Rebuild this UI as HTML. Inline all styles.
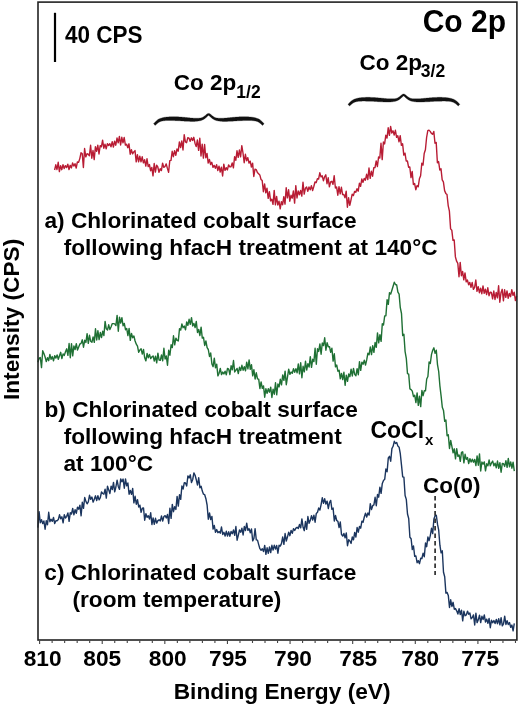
<!DOCTYPE html>
<html><head><meta charset="utf-8"><style>
html,body{margin:0;padding:0;background:#fff;}
svg{display:block;}
text{font-family:'Liberation Sans',Arial,Helvetica,sans-serif;font-weight:bold;fill:#000;}
</style></head><body>
<svg width="520" height="706" viewBox="0 0 520 706">
<rect x="0" y="0" width="520" height="706" fill="#fff"/>
<polyline points="54.6,170.0 55.8,164.8 57.0,169.5 58.2,162.3 59.4,171.6 60.6,165.6 61.8,169.7 63.0,164.7 64.2,168.6 65.4,165.6 66.6,167.6 67.8,164.2 69.0,169.5 70.2,165.3 71.4,167.9 72.6,163.0 73.8,166.1 75.0,163.7 76.2,168.0 77.4,161.9 78.6,162.3 79.8,158.6 81.0,152.8 82.2,153.5 83.4,167.5 84.6,148.5 85.8,156.9 87.0,153.7 88.2,154.2 89.4,155.7 90.6,145.3 91.8,158.2 93.0,150.5 94.2,159.6 95.4,146.8 96.6,151.4 97.8,145.2 99.0,154.0 100.2,145.6 101.4,146.8 102.6,140.2 103.8,148.2 105.0,144.1 106.2,148.8 107.4,143.7 108.6,145.5 109.8,143.7 111.0,146.8 112.2,141.6 113.4,147.1 114.6,141.1 115.8,145.2 117.0,138.0 118.2,142.8 119.4,136.4 120.6,145.0 121.8,137.3 123.0,142.9 124.2,137.5 125.4,145.1 126.6,144.2 127.8,147.7 129.0,143.8 130.2,154.2 131.4,149.7 132.6,153.8 133.8,151.9 135.0,150.6 136.2,161.9 137.4,154.6 138.6,161.8 139.8,156.2 141.0,161.8 142.2,156.8 143.4,162.9 144.6,159.7 145.8,166.1 147.0,158.8 148.2,166.6 149.4,164.5 150.6,170.7 151.8,167.4 153.0,175.9 154.2,163.5 155.4,172.1 156.6,165.2 157.8,167.0 159.0,172.3 160.2,168.7 161.4,170.6 162.6,163.1 163.8,167.4 165.0,166.5 166.2,163.9 167.4,168.4 168.6,172.3 169.8,160.6 171.0,160.4 172.2,151.3 173.4,156.7 174.6,150.6 175.8,155.3 177.0,149.0 178.2,151.2 179.4,141.9 180.6,147.5 181.8,140.9 183.0,150.0 184.2,134.7 185.4,141.9 186.6,142.7 187.8,137.6 189.0,138.1 190.2,141.4 191.4,137.8 192.6,140.4 193.8,137.3 195.0,143.2 196.2,146.5 197.4,140.0 198.6,150.4 199.8,138.2 201.0,156.0 202.2,144.1 203.4,158.1 204.6,144.5 205.8,157.7 207.0,153.4 208.2,163.1 209.4,159.4 210.6,164.5 211.8,162.3 213.0,167.4 214.2,165.4 215.4,168.3 216.6,164.7 217.8,170.6 219.0,166.1 220.2,172.0 221.4,167.2 222.6,176.0 223.8,164.1 225.0,170.4 226.2,167.7 227.4,169.9 228.6,164.9 229.8,166.9 231.0,166.8 232.2,162.9 233.4,167.9 234.6,156.8 235.8,160.4 237.0,150.8 238.2,157.4 239.4,150.0 240.6,156.8 241.8,145.6 243.0,153.0 244.2,162.7 245.4,154.3 246.6,160.7 247.8,157.6 249.0,163.1 250.2,161.2 251.4,167.0 252.6,163.1 253.8,176.5 255.0,169.1 256.2,169.6 257.4,172.5 258.6,173.7 259.8,174.9 261.0,179.4 262.2,180.6 263.4,191.7 264.6,183.9 265.8,192.8 267.0,188.3 268.2,198.4 269.4,191.6 270.6,200.9 271.8,199.2 273.0,204.4 274.2,190.4 275.4,204.8 276.6,196.4 277.8,205.0 279.0,201.1 280.2,208.9 281.4,201.6 282.6,204.8 283.8,196.6 285.0,204.1 286.2,187.8 287.4,197.8 288.6,189.8 289.8,201.2 291.0,195.3 292.2,198.2 293.4,190.9 294.6,203.1 295.8,185.6 297.0,198.0 298.2,190.9 299.4,194.7 300.6,190.4 301.8,196.1 303.0,182.2 304.2,194.1 305.4,188.3 306.6,187.0 307.8,191.4 309.0,187.0 310.2,189.8 311.4,185.6 312.6,190.5 313.8,186.5 315.0,182.0 316.2,182.6 317.4,178.6 318.6,179.0 319.8,172.8 321.0,176.9 322.2,175.8 323.4,180.7 324.6,176.8 325.8,174.8 327.0,183.7 328.2,177.8 329.4,186.9 330.6,181.8 331.8,181.3 333.0,184.4 334.2,175.7 335.4,188.0 336.6,186.9 337.8,195.2 339.0,186.7 340.2,193.9 341.4,187.3 342.6,194.6 343.8,194.5 345.0,197.8 346.2,191.2 347.4,207.2 348.6,197.8 349.8,205.4 351.0,199.9 352.2,194.1 353.4,195.6 354.6,191.4 355.8,192.3 357.0,188.7 358.2,191.2 359.4,183.3 360.6,186.4 361.8,179.0 363.0,182.4 364.2,178.5 365.4,180.2 366.6,174.3 367.8,179.5 369.0,168.0 370.2,178.3 371.4,171.3 372.6,176.2 373.8,167.7 375.0,167.6 376.2,161.0 377.4,166.5 378.6,156.9 379.8,158.1 381.0,143.2 382.2,159.6 383.4,142.0 384.6,143.9 385.8,135.3 387.0,138.1 388.2,127.8 389.4,135.3 390.6,126.5 391.8,133.0 393.0,130.8 394.2,135.1 395.4,130.3 396.6,137.3 397.8,135.7 399.0,141.9 400.2,135.7 401.4,145.4 402.6,143.7 403.8,155.1 405.0,153.2 406.2,161.0 407.4,161.0 408.6,167.2 409.8,167.0 411.0,177.6 412.2,171.5 413.4,184.5 414.6,183.5 415.8,189.7 417.0,185.6 418.2,186.8 419.4,178.8 420.6,175.8 421.8,163.2 423.0,165.1 424.2,153.5 425.4,149.8 426.6,137.5 427.8,130.7 429.0,130.1 430.2,131.4 431.4,133.4 432.6,134.3 433.8,131.4 435.0,143.3 436.2,142.4 437.4,162.7 438.6,161.6 439.8,170.0 441.0,168.8 442.2,179.9 443.4,181.9 444.6,190.6 445.8,193.4 447.0,194.5 448.2,205.6 449.4,211.2 450.6,228.9 451.8,230.2 453.0,240.3 454.2,240.0 455.4,256.9 456.6,261.2 457.8,263.3 459.0,276.7 460.2,262.4 461.4,275.7 462.6,271.4 463.8,279.8 465.0,272.9 466.2,281.8 467.4,280.0 468.6,284.7 469.8,282.4 471.0,287.4 472.2,282.5 473.4,289.4 474.6,287.3 475.8,280.0 477.0,291.4 478.2,286.6 479.4,292.7 480.6,288.1 481.8,293.7 483.0,285.9 484.2,293.4 485.4,289.2 486.6,294.6 487.8,287.8 489.0,295.7 490.2,292.1 491.4,292.5 492.6,298.8 493.8,291.0 495.0,299.5 496.2,292.5 497.4,297.9 498.6,285.7 499.8,302.2 501.0,292.7 502.2,289.3 503.4,300.8 504.6,289.8 505.8,297.3 507.0,290.9 508.2,298.4 509.4,293.4 510.6,296.7 511.8,289.6 513.0,295.4 514.2,292.2 515.4,300.6 516.6,296.0" fill="none" stroke="#b81c34" stroke-width="1.4" stroke-linejoin="round"/>
<polyline points="37.9,362.3 39.1,358.2 40.3,357.5 41.5,367.6 42.7,350.7 43.9,353.5 45.1,357.0 46.3,361.6 47.5,357.6 48.7,360.7 49.9,354.4 51.1,359.3 52.3,356.6 53.5,360.8 54.7,355.6 55.9,358.1 57.1,354.9 58.3,359.3 59.5,355.7 60.7,352.3 61.9,358.6 63.1,353.9 64.3,355.4 65.5,351.8 66.7,348.8 67.9,355.4 69.1,343.5 70.3,357.7 71.5,343.6 72.7,355.9 73.9,345.9 75.1,349.5 76.3,343.7 77.5,350.0 78.7,347.0 79.9,344.0 81.1,343.4 82.3,339.8 83.5,347.2 84.7,340.3 85.9,342.4 87.1,333.6 88.3,343.3 89.5,335.3 90.7,341.3 91.9,342.3 93.1,336.9 94.3,342.4 95.5,328.8 96.7,340.0 97.9,330.6 99.1,339.6 100.3,332.5 101.5,337.5 102.7,331.3 103.9,335.5 105.1,321.4 106.3,328.8 107.5,330.0 108.7,324.8 109.9,329.5 111.1,326.7 112.3,323.6 113.5,323.6 114.7,323.9 115.9,325.6 117.1,315.4 118.3,331.3 119.5,317.1 120.7,323.0 121.9,317.6 123.1,325.8 124.3,323.4 125.5,329.7 126.7,328.4 127.9,335.6 129.1,328.4 130.3,340.4 131.5,333.4 132.7,337.7 133.9,336.0 135.1,341.0 136.3,344.2 137.5,346.1 138.7,352.3 139.9,350.0 141.1,348.8 142.3,354.1 143.5,349.4 144.7,357.8 145.9,360.9 147.1,353.4 148.3,357.8 149.5,354.4 150.7,358.6 151.9,356.9 153.1,356.0 154.3,361.1 155.5,356.2 156.7,362.8 157.9,353.1 159.1,360.1 160.3,360.4 161.5,354.9 162.7,360.8 163.9,348.3 165.1,359.0 166.3,355.9 167.5,365.2 168.7,350.3 169.9,355.2 171.1,344.8 172.3,347.6 173.5,335.8 174.7,344.9 175.9,338.1 177.1,340.4 178.3,340.9 179.5,328.7 180.7,330.1 181.9,323.9 183.1,327.7 184.3,326.1 185.5,329.8 186.7,321.9 187.9,325.4 189.1,319.3 190.3,324.4 191.5,317.6 192.7,326.0 193.9,323.4 195.1,327.6 196.3,321.5 197.5,332.5 198.7,329.5 199.9,335.5 201.1,327.2 202.3,338.1 203.5,337.3 204.7,345.5 205.9,340.9 207.1,347.7 208.3,349.5 209.5,356.5 210.7,353.0 211.9,363.9 213.1,366.7 214.3,358.1 215.5,367.9 216.7,364.1 217.9,375.9 219.1,373.2 220.3,368.5 221.5,374.6 222.7,372.1 223.9,373.9 225.1,371.2 226.3,374.9 227.5,368.4 228.7,369.2 229.9,374.5 231.1,365.8 232.3,369.8 233.5,360.5 234.7,372.0 235.9,370.1 237.1,368.4 238.3,373.6 239.5,367.3 240.7,370.5 241.9,365.3 243.1,370.2 244.3,366.7 245.5,370.8 246.7,362.2 247.9,368.9 249.1,359.9 250.3,369.4 251.5,364.8 252.7,375.9 253.9,369.7 255.1,379.0 256.3,372.8 257.5,378.9 258.7,379.1 259.9,388.5 261.1,381.9 262.3,388.4 263.5,385.9 264.7,397.2 265.9,388.7 267.1,393.4 268.3,388.8 269.5,392.2 270.7,387.1 271.9,397.5 273.1,389.2 274.3,394.2 275.5,382.7 276.7,394.8 277.9,384.0 279.1,386.9 280.3,379.3 281.5,384.9 282.7,375.0 283.9,380.4 285.1,371.1 286.3,384.7 287.5,376.8 288.7,369.1 289.9,374.3 291.1,372.1 292.3,373.2 293.5,368.6 294.7,372.2 295.9,368.6 297.1,372.9 298.3,363.9 299.5,373.8 300.7,362.8 301.9,377.8 303.1,366.3 304.3,371.8 305.5,361.3 306.7,370.0 307.9,363.7 309.1,367.1 310.3,356.7 311.5,367.4 312.7,359.3 313.9,361.6 315.1,348.2 316.3,364.3 317.5,348.8 318.7,351.4 319.9,343.9 321.1,354.2 322.3,343.0 323.5,345.6 324.7,337.8 325.9,350.2 327.1,342.7 328.3,346.8 329.5,346.7 330.7,352.4 331.9,348.2 333.1,361.1 334.3,353.8 335.5,366.9 336.7,365.0 337.9,371.2 339.1,370.2 340.3,378.8 341.5,373.4 342.7,379.6 343.9,372.3 345.1,385.3 346.3,375.1 347.5,381.3 348.7,374.0 349.9,376.7 351.1,369.1 352.3,376.0 353.5,368.4 354.7,374.4 355.9,375.8 357.1,368.6 358.3,374.7 359.5,361.6 360.7,370.3 361.9,362.2 363.1,364.2 364.3,360.2 365.5,365.0 366.7,359.9 367.9,353.2 369.1,354.7 370.3,347.0 371.5,354.6 372.7,345.7 373.9,352.4 375.1,342.5 376.3,347.3 377.5,332.9 378.7,342.8 379.9,334.8 381.1,341.4 382.3,323.8 383.5,325.0 384.7,315.9 385.9,315.8 387.1,299.6 388.3,304.4 389.5,292.6 390.7,294.1 391.9,290.3 393.1,286.2 394.3,282.2 395.5,284.5 396.7,285.0 397.9,292.2 399.1,294.1 400.3,307.7 401.5,313.5 402.7,335.6 403.9,334.3 405.1,351.6 406.3,358.4 407.5,373.6 408.7,374.1 409.9,388.8 411.1,389.6 412.3,391.2 413.5,396.6 414.7,395.2 415.9,402.6 417.1,392.9 418.3,405.4 419.5,396.3 420.7,406.6 421.9,390.5 423.1,395.7 424.3,390.6 425.5,390.8 426.7,379.0 427.9,376.5 429.1,361.9 430.3,363.5 431.5,354.4 432.7,350.3 433.9,347.8 435.1,353.3 436.3,350.2 437.5,364.6 438.7,371.5 439.9,385.8 441.1,395.8 442.3,407.2 443.5,410.4 444.7,421.3 445.9,420.1 447.1,435.8 448.3,434.7 449.5,448.5 450.7,440.5 451.9,446.3 453.1,452.9 454.3,448.8 455.5,458.9 456.7,448.6 457.9,456.4 459.1,455.0 460.3,461.4 461.5,452.4 462.7,451.8 463.9,462.8 465.1,454.3 466.3,459.3 467.5,457.6 468.7,463.5 469.9,458.6 471.1,462.0 472.3,459.2 473.5,462.2 474.7,459.4 475.9,465.6 477.1,455.9 478.3,465.2 479.5,453.9 480.7,471.0 481.9,462.0 483.1,464.1 484.3,461.9 485.5,470.8 486.7,463.8 487.9,465.8 489.1,460.0 490.3,465.8 491.5,462.9 492.7,461.1 493.9,465.8 495.1,463.2 496.3,467.8 497.5,461.0 498.7,468.3 499.9,462.7 501.1,472.2 502.3,463.5 503.5,463.8 504.7,466.4 505.9,460.6 507.1,467.3 508.3,458.4 509.5,466.8 510.7,461.9 511.9,468.2 513.1,462.1 514.3,471.2" fill="none" stroke="#1f7034" stroke-width="1.4" stroke-linejoin="round"/>
<polyline points="37.9,527.6 39.1,511.7 40.3,522.8 41.5,519.7 42.7,523.6 43.9,521.0 45.1,529.2 46.3,520.7 47.5,524.7 48.7,512.3 49.9,521.7 51.1,519.3 52.3,521.3 53.5,517.5 54.7,523.5 55.9,520.8 57.1,520.8 58.3,519.6 59.5,514.8 60.7,518.7 61.9,516.8 63.1,522.8 64.3,514.7 65.5,518.0 66.7,516.3 67.9,512.9 69.1,521.4 70.3,512.7 71.5,513.9 72.7,508.5 73.9,514.8 75.1,509.7 76.3,513.3 77.5,507.1 78.7,509.2 79.9,505.2 81.1,515.8 82.3,502.3 83.5,508.4 84.7,497.5 85.9,501.4 87.1,503.8 88.3,501.8 89.5,495.3 90.7,499.3 91.9,497.0 93.1,502.1 94.3,499.3 95.5,495.8 96.7,500.6 97.9,495.7 99.1,499.9 100.3,497.7 101.5,492.0 102.7,493.5 103.9,494.2 105.1,489.1 106.3,498.1 107.5,486.1 108.7,489.9 109.9,493.5 111.1,486.1 112.3,489.6 113.5,482.4 114.7,491.9 115.9,487.0 117.1,480.2 118.3,486.4 119.5,489.4 120.7,478.9 121.9,481.7 123.1,479.1 124.3,488.2 125.5,478.9 126.7,485.9 127.9,483.0 129.1,494.3 130.3,490.5 131.5,494.4 132.7,488.5 133.9,502.9 135.1,496.3 136.3,504.2 137.5,499.6 138.7,507.0 139.9,505.2 141.1,512.4 142.3,508.2 143.5,507.9 144.7,520.2 145.9,513.7 147.1,517.4 148.3,515.7 149.5,519.0 150.7,512.8 151.9,524.5 153.1,518.0 154.3,524.4 155.5,518.3 156.7,523.1 157.9,520.6 159.1,519.8 160.3,520.9 161.5,516.0 162.7,521.1 163.9,516.5 165.1,515.7 166.3,517.9 167.5,514.5 168.7,523.5 169.9,508.2 171.1,518.4 172.3,504.4 173.5,511.7 174.7,506.7 175.9,509.4 177.1,496.4 178.3,506.1 179.5,494.8 180.7,499.4 181.9,486.0 183.1,489.1 184.3,482.7 185.5,483.0 186.7,486.0 187.9,475.9 189.1,477.9 190.3,474.8 191.5,482.6 192.7,479.5 193.9,472.9 195.1,475.2 196.3,479.8 197.5,485.0 198.7,477.8 199.9,487.7 201.1,486.2 202.3,491.1 203.5,494.2 204.7,494.7 205.9,498.7 207.1,505.0 208.3,519.2 209.5,513.0 210.7,519.5 211.9,516.4 213.1,529.1 214.3,525.5 215.5,532.3 216.7,529.6 217.9,532.7 219.1,531.5 220.3,533.2 221.5,527.0 222.7,534.5 223.9,532.3 225.1,536.0 226.3,531.3 227.5,536.1 228.7,531.8 229.9,536.2 231.1,531.5 232.3,533.7 233.5,529.9 234.7,535.3 235.9,526.5 237.1,540.2 238.3,535.3 239.5,530.0 240.7,532.3 241.9,528.2 243.1,535.0 244.3,526.5 245.5,530.5 246.7,523.1 247.9,530.3 249.1,528.8 250.3,532.8 251.5,529.0 252.7,540.9 253.9,538.5 255.1,528.7 256.3,539.9 257.5,540.1 258.7,544.6 259.9,548.7 261.1,550.3 262.3,548.8 263.5,551.5 264.7,545.4 265.9,554.4 267.1,547.8 268.3,553.4 269.5,546.9 270.7,552.6 271.9,545.3 273.1,550.1 274.3,545.1 275.5,549.1 276.7,545.5 277.9,553.2 279.1,545.2 280.3,546.1 281.5,543.4 282.7,537.0 283.9,544.3 285.1,533.5 286.3,541.1 287.5,536.8 288.7,532.1 289.9,535.7 291.1,530.4 292.3,533.3 293.5,528.6 294.7,530.5 295.9,528.1 297.1,527.3 298.3,528.5 299.5,524.4 300.7,527.9 301.9,518.9 303.1,527.3 304.3,530.7 305.5,521.4 306.7,529.3 307.9,516.5 309.1,523.3 310.3,520.3 311.5,515.6 312.7,520.1 313.9,515.2 315.1,522.2 316.3,513.4 317.5,512.3 318.7,508.0 319.9,510.1 321.1,504.6 322.3,497.7 323.5,503.4 324.7,498.8 325.9,504.1 327.1,501.1 328.3,508.5 329.5,502.6 330.7,500.4 331.9,509.4 333.1,508.1 334.3,521.0 335.5,515.4 336.7,520.5 337.9,521.4 339.1,527.6 340.3,522.0 341.5,534.4 342.7,536.1 343.9,533.5 345.1,537.8 346.3,533.0 347.5,545.7 348.7,539.8 349.9,541.0 351.1,543.4 352.3,536.9 353.5,539.9 354.7,532.4 355.9,537.0 357.1,527.5 358.3,532.2 359.5,526.5 360.7,528.2 361.9,521.1 363.1,522.2 364.3,517.0 365.5,513.1 366.7,517.0 367.9,513.0 369.1,515.1 370.3,503.6 371.5,509.6 372.7,505.7 373.9,504.9 375.1,497.3 376.3,505.7 377.5,494.5 378.7,497.2 379.9,487.1 381.1,493.3 382.3,483.4 383.5,480.4 384.7,479.3 385.9,468.9 387.1,471.8 388.3,458.0 389.5,456.3 390.7,461.2 391.9,448.6 393.1,446.3 394.3,441.3 395.5,443.5 396.7,442.5 397.9,446.1 399.1,447.2 400.3,453.7 401.5,465.1 402.7,476.9 403.9,477.1 405.1,495.5 406.3,499.4 407.5,514.0 408.7,518.5 409.9,537.2 411.1,538.7 412.3,549.6 413.5,546.0 414.7,556.3 415.9,556.0 417.1,562.7 418.3,560.7 419.5,563.7 420.7,558.3 421.9,558.5 423.1,553.2 424.3,556.8 425.5,543.0 426.7,546.7 427.9,537.0 429.1,540.7 430.3,535.6 431.5,528.3 432.7,533.6 433.9,519.0 435.1,515.7 436.3,515.2 437.5,524.2 438.7,530.2 439.9,545.2 441.1,552.9 442.3,550.8 443.5,572.3 444.7,576.7 445.9,593.1 447.1,592.4 448.3,595.4 449.5,607.5 450.7,599.8 451.9,606.5 453.1,602.3 454.3,609.2 455.5,608.6 456.7,610.8 457.9,614.0 459.1,608.7 460.3,614.6 461.5,610.2 462.7,620.9 463.9,611.1 465.1,615.7 466.3,615.0 467.5,611.1 468.7,614.3 469.9,613.1 471.1,618.8 472.3,617.5 473.5,614.9 474.7,625.0 475.9,613.2 477.1,622.6 478.3,619.8 479.5,615.1 480.7,622.6 481.9,616.3 483.1,619.6 484.3,614.9 485.5,622.1 486.7,619.1 487.9,623.3 489.1,618.5 490.3,627.7 491.5,620.2 492.7,622.8 493.9,620.5 495.1,623.6 496.3,619.5 497.5,623.7 498.7,618.7 499.9,624.8 501.1,617.7 502.3,625.8 503.5,623.8 504.7,616.1 505.9,624.5 507.1,620.7 508.3,624.5 509.5,622.5 510.7,627.3 511.9,625.1 513.1,630.9 514.3,623.3" fill="none" stroke="#1b355e" stroke-width="1.4" stroke-linejoin="round"/>
<rect x="38" y="2.1" width="478.9" height="637.9" fill="none" stroke="#222" stroke-width="1.6"/>
<path d="M515.47,640.5 V642.9 M502.95,640.5 V642.9 M490.43,640.5 V642.9 M477.91,640.5 V644.1 M465.38,640.5 V642.9 M452.86,640.5 V642.9 M440.34,640.5 V642.9 M427.81,640.5 V642.9 M415.29,640.5 V644.1 M402.77,640.5 V642.9 M390.24,640.5 V642.9 M377.72,640.5 V642.9 M365.20,640.5 V642.9 M352.68,640.5 V644.1 M340.15,640.5 V642.9 M327.63,640.5 V642.9 M315.11,640.5 V642.9 M302.58,640.5 V642.9 M290.06,640.5 V644.1 M277.54,640.5 V642.9 M265.01,640.5 V642.9 M252.49,640.5 V642.9 M239.97,640.5 V642.9 M227.44,640.5 V644.1 M214.92,640.5 V642.9 M202.40,640.5 V642.9 M189.88,640.5 V642.9 M177.35,640.5 V642.9 M164.83,640.5 V644.1 M152.31,640.5 V642.9 M139.78,640.5 V642.9 M127.26,640.5 V642.9 M114.74,640.5 V642.9 M102.22,640.5 V644.1 M89.69,640.5 V642.9 M77.17,640.5 V642.9 M64.65,640.5 V642.9 M52.12,640.5 V642.9 M39.60,640.5 V644.1" stroke="#444" stroke-width="1.1" fill="none"/>
<path d="M55,12.8 V62" stroke="#000" stroke-width="2.2"/>
<text transform="translate(64.9,43.4) scale(1,1.03)" font-size="22.5">40 CPS</text>
<text transform="translate(422.7,31.6) scale(1,1.05)" font-size="30">Co 2p</text>
<text x="173.8" y="90.2" font-size="22.5">Co 2p<tspan font-size="17.5" dy="7.6">1/2</tspan></text>
<text x="359.5" y="70.3" font-size="22.5">Co 2p<tspan font-size="17.5" dx="-1.2" dy="6.6">3/2</tspan></text>
<path d="M155.23,125.40 L155.46,125.18 L155.68,124.96 L155.90,124.74 L156.10,124.53 L156.31,124.32 L156.51,124.13 L156.71,123.94 L156.92,123.75 L157.14,123.57 L157.39,123.39 L157.67,123.18 L157.96,122.96 L158.25,122.75 L158.54,122.54 L158.83,122.34 L159.13,122.15 L159.43,121.98 L159.73,121.81 L160.05,121.67 L160.39,121.53 L160.75,121.41 L161.14,121.29 L161.55,121.18 L161.98,121.08 L162.42,120.99 L162.89,120.91 L163.37,120.84 L163.87,120.77 L164.39,120.71 L164.92,120.66 L165.47,120.62 L166.04,120.58 L166.64,120.55 L167.26,120.53 L167.90,120.52 L168.55,120.51 L169.21,120.51 L169.88,120.52 L170.56,120.52 L171.23,120.53 L171.90,120.55 L172.57,120.57 L173.26,120.59 L173.95,120.60 L174.65,120.62 L175.35,120.63 L176.05,120.65 L176.76,120.67 L177.46,120.70 L178.16,120.73 L178.84,120.76 L179.52,120.79 L180.19,120.84 L180.87,120.88 L181.55,120.93 L182.25,120.99 L182.95,121.04 L183.67,121.09 L184.41,121.13 L185.17,121.17 L185.94,121.20 L186.75,121.23 L187.59,121.27 L188.44,121.31 L189.30,121.35 L190.16,121.39 L191.01,121.42 L191.84,121.44 L192.64,121.45 L193.40,121.44 L194.12,121.43 L194.82,121.41 L195.50,121.36 L196.16,121.31 L196.79,121.24 L197.40,121.17 L197.98,121.10 L198.54,121.02 L199.06,120.94 L199.56,120.85 L200.03,120.76 L200.45,120.67 L200.85,120.57 L201.22,120.46 L201.56,120.35 L201.90,120.23 L202.21,120.11 L202.52,119.97 L202.82,119.83 L203.14,119.67 L203.47,119.49 L203.80,119.29 L204.12,119.09 L204.42,118.88 L204.72,118.66 L205.00,118.45 L205.27,118.24 L205.53,118.03 L205.77,117.84 L206.01,117.64 L206.25,117.44 L206.48,117.23 L206.70,117.02 L206.91,116.82 L207.10,116.62 L207.28,116.44 L207.44,116.27 L207.59,116.13 L207.72,116.00 L207.85,115.89 L207.99,115.78 L208.13,115.67 L208.26,115.58 L208.36,115.50 L208.44,115.44 L208.51,115.40 L208.55,115.38 L208.58,115.36 L208.59,115.36 L208.60,115.35 L208.61,115.36 L208.62,115.36 L208.65,115.38 L208.70,115.40 L208.76,115.44 L208.85,115.50 L208.96,115.58 L209.08,115.68 L209.22,115.78 L209.36,115.90 L209.50,116.01 L209.63,116.13 L209.78,116.28 L209.95,116.44 L210.12,116.63 L210.32,116.82 L210.52,117.02 L210.75,117.23 L210.98,117.44 L211.23,117.65 L211.47,117.84 L211.71,118.04 L211.97,118.24 L212.24,118.45 L212.53,118.67 L212.82,118.88 L213.13,119.09 L213.46,119.29 L213.79,119.49 L214.12,119.67 L214.44,119.83 L214.74,119.97 L215.05,120.11 L215.37,120.23 L215.71,120.35 L216.06,120.47 L216.43,120.57 L216.83,120.67 L217.26,120.76 L217.72,120.85 L218.23,120.94 L218.76,121.02 L219.32,121.10 L219.91,121.17 L220.52,121.24 L221.16,121.31 L221.82,121.36 L222.51,121.41 L223.21,121.43 L223.94,121.44 L224.71,121.45 L225.51,121.44 L226.35,121.42 L227.20,121.39 L228.07,121.35 L228.94,121.31 L229.80,121.27 L230.65,121.23 L231.46,121.20 L232.25,121.17 L233.01,121.13 L233.76,121.09 L234.48,121.04 L235.19,120.99 L235.89,120.93 L236.58,120.88 L237.27,120.84 L237.95,120.79 L238.63,120.76 L239.32,120.73 L240.03,120.70 L240.74,120.67 L241.45,120.65 L242.16,120.63 L242.87,120.62 L243.57,120.60 L244.27,120.59 L244.96,120.57 L245.64,120.55 L246.32,120.53 L247.00,120.52 L247.68,120.52 L248.35,120.51 L249.02,120.51 L249.68,120.52 L250.32,120.53 L250.95,120.55 L251.55,120.58 L252.13,120.62 L252.69,120.66 L253.23,120.71 L253.75,120.77 L254.26,120.84 L254.74,120.91 L255.21,120.99 L255.66,121.09 L256.09,121.19 L256.50,121.29 L256.90,121.41 L257.27,121.54 L257.61,121.67 L257.93,121.82 L258.24,121.98 L258.54,122.16 L258.84,122.35 L259.14,122.55 L259.43,122.75 L259.72,122.97 L260.01,123.18 L260.30,123.39 L260.55,123.58 L260.77,123.76 L260.98,123.94 L261.19,124.13 L261.39,124.33 L261.59,124.53 L261.80,124.74 L262.02,124.96 L262.24,125.18 L262.48,125.40 L264.12,123.80 L263.93,123.58 L263.74,123.36 L263.55,123.14 L263.36,122.91 L263.16,122.67 L262.95,122.43 L262.72,122.18 L262.47,121.92 L262.21,121.66 L261.93,121.41 L261.66,121.17 L261.38,120.92 L261.09,120.66 L260.78,120.40 L260.44,120.13 L260.08,119.86 L259.70,119.59 L259.29,119.34 L258.85,119.09 L258.39,118.86 L257.92,118.66 L257.45,118.47 L256.96,118.29 L256.45,118.13 L255.94,117.97 L255.40,117.83 L254.86,117.69 L254.30,117.57 L253.72,117.45 L253.13,117.34 L252.51,117.24 L251.86,117.15 L251.20,117.08 L250.53,117.02 L249.84,116.96 L249.15,116.91 L248.46,116.87 L247.76,116.83 L247.06,116.80 L246.37,116.77 L245.66,116.74 L244.95,116.72 L244.23,116.70 L243.50,116.71 L242.78,116.73 L242.05,116.75 L241.32,116.78 L240.59,116.81 L239.86,116.84 L239.14,116.87 L238.42,116.91 L237.71,116.96 L237.00,117.01 L236.30,117.07 L235.60,117.12 L234.89,117.18 L234.19,117.24 L233.47,117.30 L232.74,117.36 L231.99,117.43 L231.21,117.51 L230.38,117.59 L229.54,117.68 L228.68,117.76 L227.83,117.85 L226.98,117.93 L226.15,118.00 L225.36,118.07 L224.60,118.12 L223.89,118.16 L223.21,118.18 L222.55,118.19 L221.91,118.21 L221.28,118.23 L220.68,118.23 L220.10,118.23 L219.55,118.22 L219.03,118.20 L218.53,118.18 L218.07,118.15 L217.66,118.12 L217.29,118.08 L216.96,118.04 L216.67,117.99 L216.40,117.93 L216.15,117.87 L215.90,117.80 L215.64,117.72 L215.38,117.63 L215.11,117.53 L214.85,117.42 L214.59,117.30 L214.33,117.15 L214.06,117.00 L213.80,116.83 L213.54,116.66 L213.28,116.48 L213.02,116.30 L212.77,116.12 L212.54,115.95 L212.33,115.80 L212.13,115.64 L211.94,115.48 L211.74,115.31 L211.55,115.14 L211.36,114.96 L211.17,114.79 L210.97,114.62 L210.77,114.45 L210.57,114.30 L210.40,114.18 L210.24,114.07 L210.08,113.96 L209.91,113.86 L209.73,113.76 L209.54,113.66 L209.33,113.57 L209.10,113.51 L208.86,113.46 L208.60,113.45 L208.34,113.46 L208.10,113.51 L207.87,113.57 L207.66,113.66 L207.47,113.76 L207.29,113.86 L207.13,113.97 L206.97,114.08 L206.81,114.18 L206.64,114.31 L206.44,114.45 L206.24,114.62 L206.04,114.79 L205.85,114.97 L205.66,115.14 L205.47,115.31 L205.28,115.48 L205.09,115.65 L204.90,115.80 L204.69,115.96 L204.46,116.12 L204.21,116.30 L203.95,116.48 L203.70,116.66 L203.44,116.84 L203.18,117.00 L202.92,117.16 L202.66,117.30 L202.40,117.42 L202.14,117.53 L201.87,117.63 L201.61,117.72 L201.36,117.80 L201.12,117.87 L200.87,117.93 L200.60,117.99 L200.31,118.04 L199.99,118.08 L199.62,118.12 L199.21,118.15 L198.75,118.18 L198.27,118.20 L197.75,118.22 L197.20,118.23 L196.63,118.23 L196.03,118.23 L195.42,118.21 L194.78,118.19 L194.12,118.18 L193.45,118.16 L192.75,118.12 L192.00,118.07 L191.21,118.00 L190.39,117.93 L189.55,117.85 L188.70,117.76 L187.86,117.68 L187.02,117.59 L186.20,117.51 L185.42,117.43 L184.68,117.36 L183.96,117.30 L183.25,117.24 L182.55,117.18 L181.85,117.12 L181.16,117.07 L180.46,117.01 L179.76,116.96 L179.05,116.91 L178.34,116.87 L177.62,116.84 L176.90,116.81 L176.18,116.78 L175.46,116.75 L174.74,116.73 L174.02,116.71 L173.30,116.70 L172.58,116.72 L171.87,116.74 L171.18,116.77 L170.49,116.80 L169.80,116.83 L169.11,116.87 L168.42,116.91 L167.73,116.96 L167.05,117.02 L166.39,117.08 L165.73,117.15 L165.09,117.24 L164.48,117.34 L163.89,117.45 L163.32,117.57 L162.76,117.70 L162.22,117.83 L161.69,117.97 L161.18,118.13 L160.68,118.29 L160.19,118.47 L159.72,118.66 L159.25,118.87 L158.80,119.09 L158.36,119.34 L157.96,119.60 L157.58,119.86 L157.22,120.13 L156.89,120.40 L156.58,120.67 L156.29,120.92 L156.02,121.17 L155.75,121.41 L155.47,121.67 L155.21,121.93 L154.96,122.18 L154.74,122.43 L154.53,122.68 L154.33,122.91 L154.14,123.14 L153.95,123.36 L153.77,123.58 L153.57,123.80 Z" fill="#111" stroke="#111" stroke-width="0.3" stroke-linejoin="round"/>
<path d="M349.62,106.00 L349.85,105.78 L350.08,105.56 L350.30,105.34 L350.51,105.13 L350.71,104.93 L350.92,104.73 L351.12,104.54 L351.33,104.36 L351.56,104.18 L351.81,103.99 L352.09,103.78 L352.38,103.57 L352.67,103.36 L352.97,103.15 L353.26,102.95 L353.56,102.76 L353.87,102.58 L354.18,102.42 L354.50,102.27 L354.84,102.14 L355.21,102.01 L355.61,101.89 L356.02,101.79 L356.45,101.69 L356.90,101.59 L357.37,101.51 L357.86,101.44 L358.37,101.37 L358.89,101.31 L359.43,101.26 L359.99,101.22 L360.57,101.18 L361.17,101.15 L361.80,101.13 L362.44,101.12 L363.10,101.11 L363.77,101.11 L364.45,101.12 L365.13,101.12 L365.81,101.13 L366.49,101.15 L367.17,101.17 L367.86,101.19 L368.56,101.20 L369.27,101.22 L369.98,101.23 L370.69,101.25 L371.40,101.27 L372.12,101.30 L372.82,101.33 L373.51,101.36 L374.20,101.39 L374.88,101.44 L375.57,101.48 L376.26,101.53 L376.96,101.59 L377.67,101.64 L378.40,101.69 L379.15,101.73 L379.91,101.77 L380.69,101.80 L381.51,101.83 L382.36,101.87 L383.22,101.91 L384.09,101.95 L384.96,101.99 L385.82,102.02 L386.66,102.04 L387.46,102.05 L388.23,102.04 L388.96,102.03 L389.67,102.01 L390.35,101.96 L391.02,101.91 L391.66,101.84 L392.27,101.77 L392.86,101.70 L393.42,101.62 L393.96,101.54 L394.46,101.45 L394.93,101.36 L395.36,101.27 L395.76,101.17 L396.13,101.07 L396.48,100.95 L396.81,100.84 L397.13,100.71 L397.44,100.57 L397.75,100.43 L398.06,100.27 L398.40,100.09 L398.73,99.90 L399.06,99.69 L399.37,99.48 L399.66,99.27 L399.95,99.05 L400.22,98.84 L400.48,98.64 L400.72,98.44 L400.96,98.25 L401.21,98.04 L401.45,97.83 L401.67,97.62 L401.88,97.42 L402.07,97.23 L402.25,97.04 L402.42,96.88 L402.57,96.73 L402.70,96.61 L402.83,96.50 L402.98,96.39 L403.12,96.27 L403.24,96.18 L403.35,96.10 L403.43,96.04 L403.50,96.00 L403.55,95.98 L403.57,95.96 L403.59,95.96 L403.60,95.95 L403.61,95.96 L403.63,95.96 L403.66,95.98 L403.71,96.01 L403.78,96.05 L403.87,96.11 L403.97,96.18 L404.10,96.28 L404.24,96.39 L404.39,96.50 L404.52,96.61 L404.66,96.74 L404.81,96.88 L404.98,97.05 L405.16,97.23 L405.35,97.42 L405.56,97.63 L405.79,97.84 L406.03,98.05 L406.28,98.25 L406.52,98.44 L406.77,98.64 L407.03,98.85 L407.30,99.06 L407.59,99.27 L407.89,99.48 L408.20,99.69 L408.53,99.90 L408.87,100.09 L409.21,100.27 L409.53,100.43 L409.83,100.57 L410.15,100.71 L410.47,100.84 L410.81,100.96 L411.16,101.07 L411.54,101.17 L411.94,101.27 L412.37,101.36 L412.85,101.45 L413.35,101.54 L413.89,101.62 L414.46,101.70 L415.05,101.77 L415.67,101.84 L416.32,101.91 L416.99,101.96 L417.69,102.01 L418.40,102.03 L419.14,102.04 L419.91,102.05 L420.73,102.04 L421.57,102.02 L422.44,101.99 L423.32,101.95 L424.20,101.91 L425.07,101.87 L425.93,101.83 L426.75,101.80 L427.55,101.77 L428.32,101.73 L429.07,101.69 L429.81,101.64 L430.53,101.59 L431.24,101.53 L431.94,101.48 L432.63,101.44 L433.32,101.39 L434.01,101.36 L434.71,101.33 L435.43,101.30 L436.15,101.27 L436.87,101.25 L437.59,101.23 L438.30,101.22 L439.02,101.20 L439.73,101.19 L440.43,101.17 L441.12,101.15 L441.80,101.13 L442.49,101.12 L443.18,101.12 L443.86,101.11 L444.54,101.11 L445.21,101.12 L445.86,101.13 L446.50,101.15 L447.11,101.18 L447.69,101.22 L448.26,101.26 L448.80,101.31 L449.33,101.37 L449.85,101.44 L450.34,101.51 L450.82,101.60 L451.27,101.69 L451.71,101.79 L452.13,101.90 L452.53,102.01 L452.90,102.14 L453.25,102.27 L453.57,102.42 L453.89,102.58 L454.20,102.76 L454.50,102.95 L454.80,103.15 L455.10,103.36 L455.39,103.57 L455.69,103.79 L455.97,104.00 L456.23,104.18 L456.45,104.36 L456.67,104.55 L456.87,104.74 L457.08,104.93 L457.29,105.14 L457.50,105.35 L457.72,105.56 L457.95,105.79 L458.18,106.01 L459.82,104.39 L459.62,104.17 L459.43,103.96 L459.24,103.73 L459.05,103.50 L458.84,103.27 L458.63,103.02 L458.39,102.77 L458.14,102.52 L457.87,102.26 L457.59,102.00 L457.32,101.76 L457.04,101.52 L456.74,101.26 L456.43,100.99 L456.09,100.72 L455.73,100.46 L455.34,100.19 L454.92,99.93 L454.48,99.69 L454.02,99.46 L453.54,99.26 L453.06,99.07 L452.57,98.89 L452.06,98.73 L451.53,98.57 L450.99,98.43 L450.44,98.29 L449.87,98.17 L449.29,98.05 L448.69,97.94 L448.06,97.84 L447.41,97.75 L446.74,97.68 L446.06,97.62 L445.37,97.56 L444.67,97.51 L443.96,97.47 L443.26,97.43 L442.55,97.40 L441.85,97.37 L441.14,97.34 L440.42,97.32 L439.69,97.30 L438.95,97.31 L438.21,97.33 L437.48,97.35 L436.74,97.38 L436.00,97.41 L435.27,97.44 L434.53,97.47 L433.80,97.51 L433.08,97.56 L432.37,97.61 L431.66,97.67 L430.95,97.72 L430.23,97.78 L429.52,97.84 L428.79,97.90 L428.06,97.96 L427.30,98.03 L426.50,98.11 L425.66,98.19 L424.81,98.28 L423.94,98.36 L423.08,98.45 L422.22,98.53 L421.38,98.60 L420.57,98.67 L419.81,98.72 L419.09,98.76 L418.40,98.78 L417.73,98.79 L417.07,98.81 L416.44,98.83 L415.83,98.83 L415.25,98.83 L414.69,98.82 L414.16,98.80 L413.66,98.78 L413.19,98.75 L412.77,98.72 L412.40,98.68 L412.06,98.64 L411.76,98.59 L411.49,98.53 L411.23,98.47 L410.98,98.40 L410.72,98.32 L410.46,98.23 L410.18,98.13 L409.91,98.02 L409.65,97.89 L409.39,97.75 L409.12,97.60 L408.85,97.43 L408.59,97.25 L408.32,97.08 L408.07,96.90 L407.81,96.72 L407.57,96.55 L407.36,96.39 L407.16,96.24 L406.97,96.08 L406.77,95.91 L406.58,95.73 L406.38,95.56 L406.19,95.38 L405.99,95.21 L405.79,95.05 L405.58,94.90 L405.41,94.78 L405.25,94.67 L405.08,94.56 L404.92,94.45 L404.74,94.35 L404.54,94.26 L404.33,94.17 L404.10,94.10 L403.86,94.06 L403.60,94.05 L403.34,94.06 L403.09,94.10 L402.86,94.17 L402.65,94.26 L402.46,94.36 L402.29,94.46 L402.12,94.56 L401.96,94.67 L401.80,94.78 L401.63,94.90 L401.43,95.05 L401.22,95.22 L401.03,95.39 L400.83,95.56 L400.64,95.74 L400.45,95.91 L400.26,96.08 L400.07,96.24 L399.87,96.40 L399.66,96.55 L399.42,96.72 L399.17,96.90 L398.91,97.08 L398.65,97.26 L398.39,97.43 L398.13,97.60 L397.86,97.75 L397.60,97.90 L397.34,98.02 L397.08,98.13 L396.81,98.23 L396.54,98.32 L396.29,98.40 L396.04,98.47 L395.79,98.53 L395.52,98.59 L395.22,98.64 L394.90,98.68 L394.53,98.72 L394.11,98.75 L393.65,98.78 L393.15,98.80 L392.63,98.82 L392.08,98.83 L391.50,98.83 L390.90,98.83 L390.27,98.81 L389.63,98.79 L388.96,98.78 L388.28,98.76 L387.57,98.72 L386.81,98.67 L386.01,98.60 L385.18,98.53 L384.34,98.45 L383.48,98.36 L382.62,98.28 L381.78,98.19 L380.95,98.11 L380.16,98.03 L379.41,97.96 L378.68,97.90 L377.97,97.84 L377.26,97.78 L376.55,97.72 L375.85,97.67 L375.15,97.61 L374.44,97.56 L373.73,97.51 L373.00,97.47 L372.28,97.44 L371.55,97.41 L370.82,97.38 L370.09,97.35 L369.36,97.33 L368.63,97.31 L367.91,97.30 L367.18,97.32 L366.47,97.34 L365.76,97.37 L365.07,97.40 L364.37,97.43 L363.67,97.47 L362.97,97.51 L362.28,97.56 L361.60,97.62 L360.92,97.68 L360.26,97.75 L359.61,97.84 L358.99,97.94 L358.40,98.05 L357.82,98.17 L357.26,98.29 L356.71,98.43 L356.18,98.57 L355.66,98.73 L355.15,98.89 L354.66,99.07 L354.19,99.26 L353.72,99.46 L353.26,99.69 L352.82,99.94 L352.41,100.19 L352.02,100.46 L351.67,100.73 L351.33,101.00 L351.02,101.26 L350.72,101.52 L350.45,101.77 L350.18,102.01 L349.90,102.26 L349.63,102.52 L349.39,102.78 L349.16,103.03 L348.94,103.27 L348.74,103.51 L348.55,103.74 L348.36,103.96 L348.17,104.18 L347.98,104.40 Z" fill="#111" stroke="#111" stroke-width="0.3" stroke-linejoin="round"/>
<text x="44.5" y="228.4" font-size="22.65">a) Chlorinated cobalt surface</text>
<text x="63.7" y="255.3" font-size="22.65">following hfacH treatment at 140°C</text>
<text x="44.5" y="416.6" font-size="22.65">b) Chlorinated cobalt surface</text>
<text x="63.7" y="443.9" font-size="22.65">following hfacH treatment</text>
<text x="63.5" y="471.3" font-size="22.65">at 100°C</text>
<text x="370.4" y="437.8" font-size="23">CoCl<tspan font-size="15" dx="1" dy="7.3">x</tspan></text>
<text x="423" y="492.9" font-size="22.5">Co(0)</text>
<path d="M435.1,496 V575" stroke="#222" stroke-width="1.6" stroke-dasharray="4.5,3"/>
<text x="44.3" y="580.3" font-size="22.65">c) Chlorinated cobalt surface</text>
<text x="72.5" y="607.2" font-size="22.65">(room temperature)</text>
<text x="42.6" y="665.6" font-size="22.7" text-anchor="middle">810</text><text x="102.2" y="665.6" font-size="22.7" text-anchor="middle">805</text><text x="167.8" y="665.6" font-size="22.7" text-anchor="middle">800</text><text x="228.0" y="665.6" font-size="22.7" text-anchor="middle">795</text><text x="293.0" y="665.6" font-size="22.7" text-anchor="middle">790</text><text x="358.2" y="665.6" font-size="22.7" text-anchor="middle">785</text><text x="420.3" y="665.6" font-size="22.7" text-anchor="middle">780</text><text x="480.3" y="665.6" font-size="22.7" text-anchor="middle">775</text>
<text x="282.1" y="698.8" font-size="22.7" text-anchor="middle">Binding Energy (eV)</text>
<text transform="translate(18.5,319.4) rotate(-90)" x="0" y="0" font-size="22.7" text-anchor="middle">Intensity (CPS)</text>
</svg>
</body></html>
